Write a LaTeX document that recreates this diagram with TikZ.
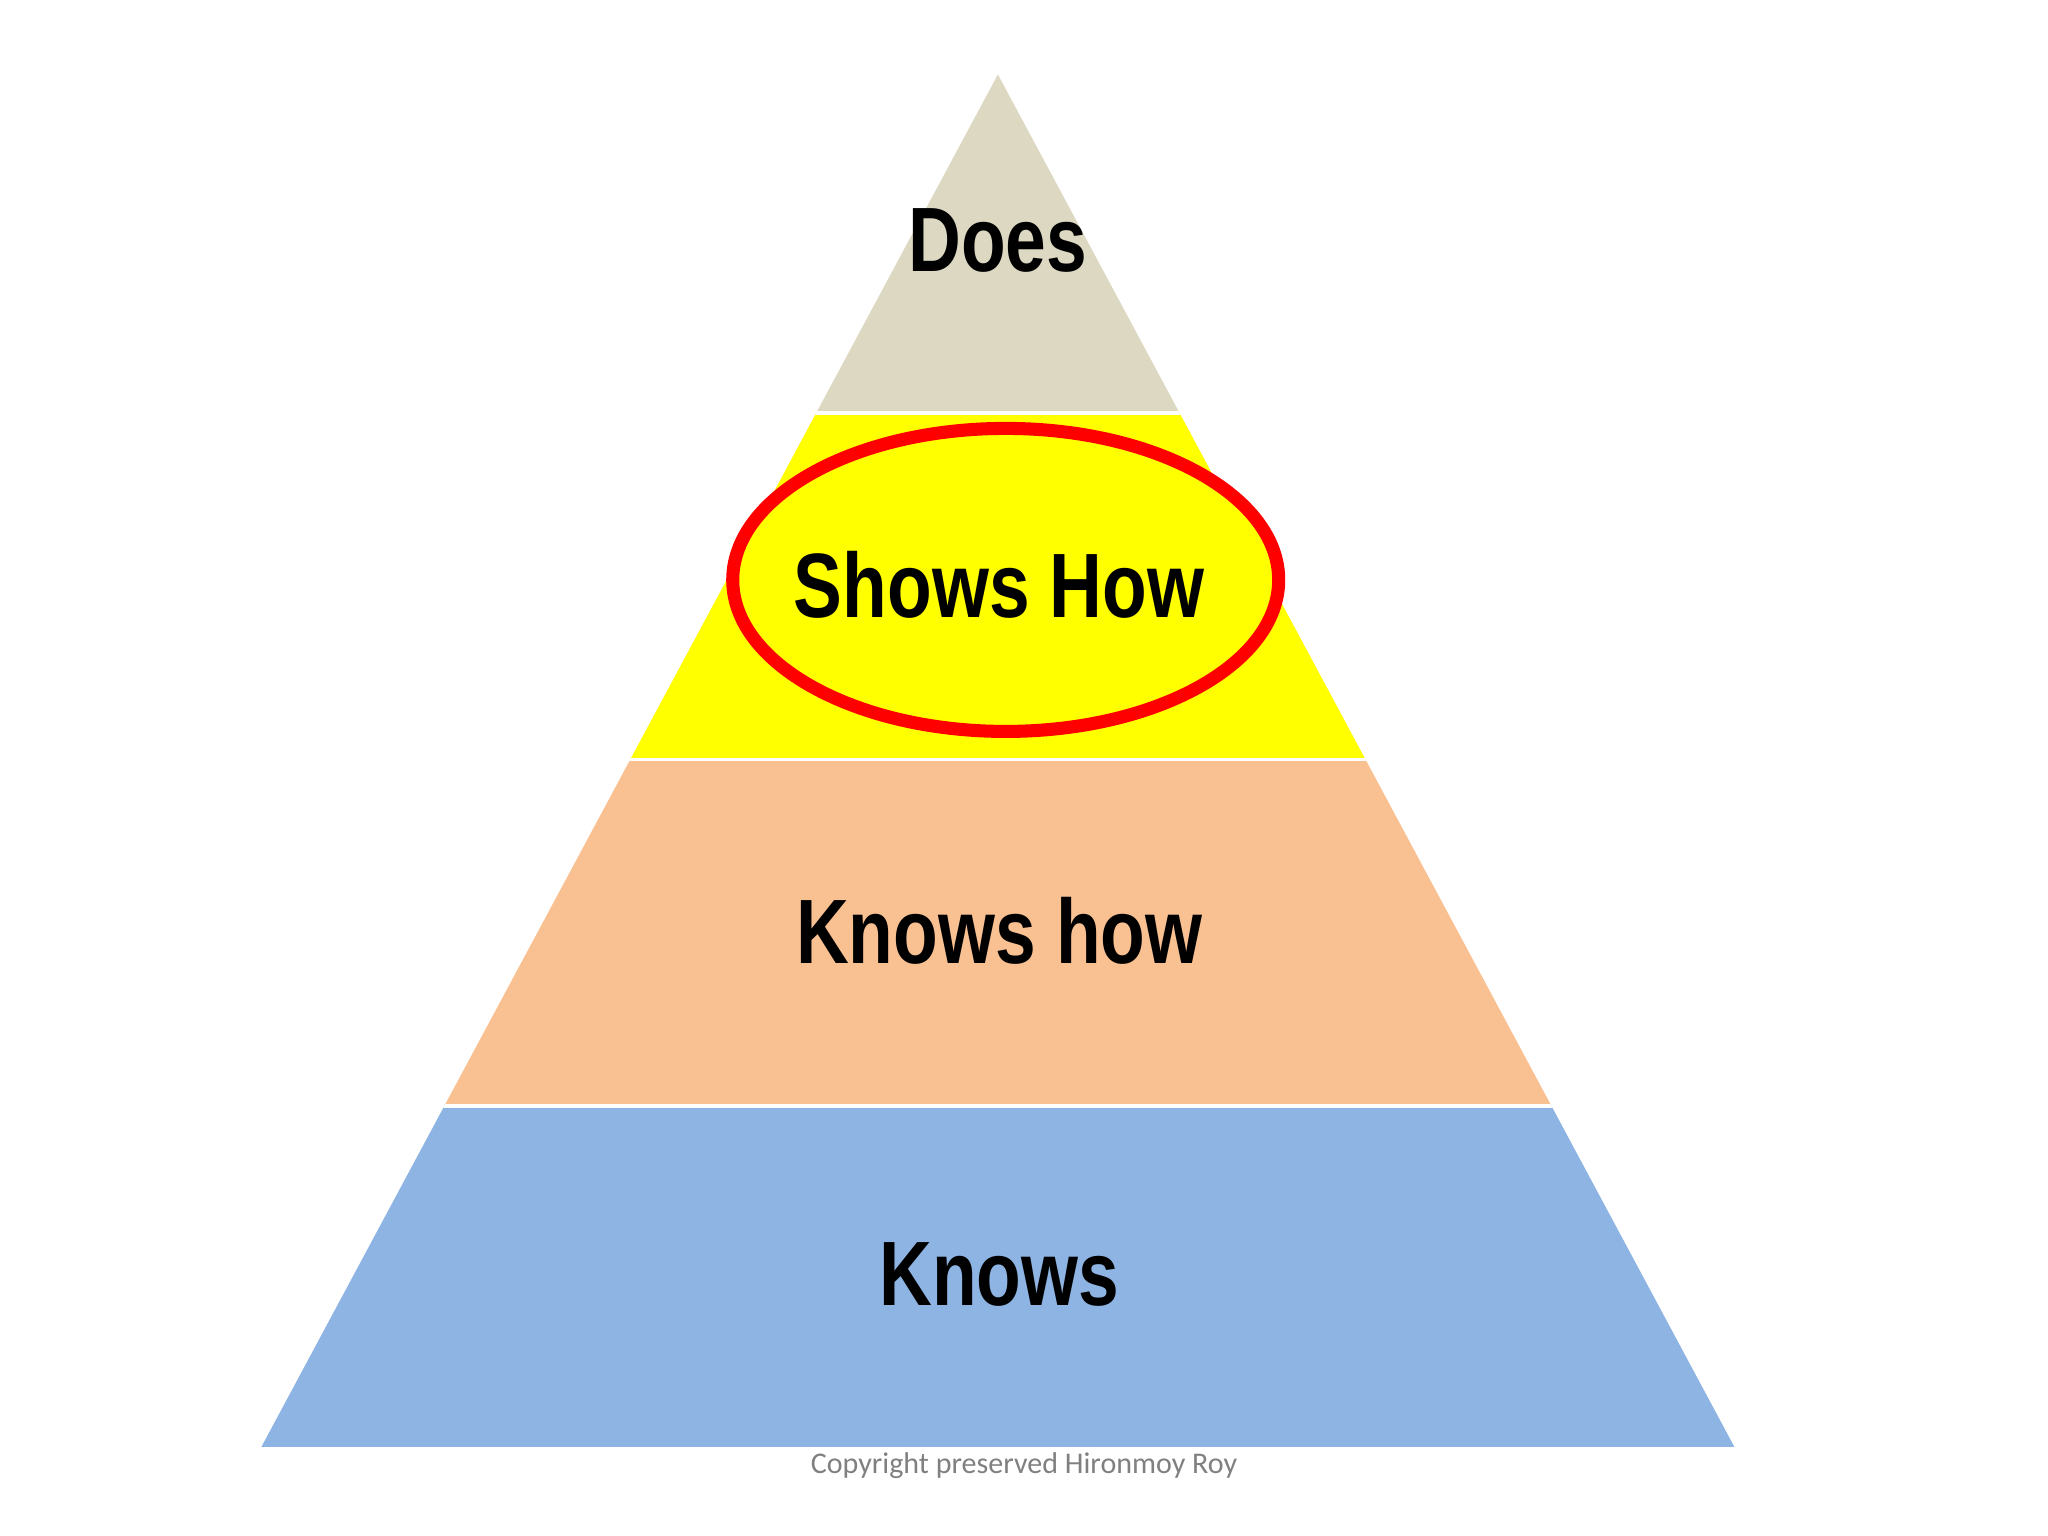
\documentclass[tikz,border=0pt]{standalone}
\usepackage{fontspec}
\usetikzlibrary{shapes.geometric}
\setmainfont{Liberation Sans}
\newfontfamily\copyfont{Carlito}
\definecolor{tanc}{RGB}{221,216,194}
\definecolor{yel}{RGB}{255,255,0}
\definecolor{orng}{RGB}{249,192,145}
\definecolor{blu}{RGB}{142,180,227}
\definecolor{grytxt}{RGB}{128,128,128}
\tikzset{lbl/.style={font=\bfseries\fontsize{35}{40}\selectfont,xscale=0.8,inner sep=0}}
\begin{document}
\begin{tikzpicture}[x=0.5pt,y=-0.5pt]
\useasboundingbox (0,0) rectangle (1568,1176);
\begin{scope}
\clip (764,57) -- (1328,1108) -- (200,1108) -- cycle;
\fill[tanc] (0,0) rectangle (1568,316);
\fill[yel] (0,316) rectangle (1568,581);
\fill[orng] (0,581) rectangle (1568,846);
\fill[blu] (0,846) rectangle (1568,1108);
\draw[white,line width=1.5pt] (0,316.5) -- (1568,316.5) (0,581.5) -- (1568,581.5) (0,846.5) -- (1568,846.5);
\end{scope}
\node[draw=red,fill=yel,line width=5pt,ellipse,minimum width=209pt,minimum height=116pt,inner sep=0] (ell) at (770,444) {};
\node[lbl] (does) at (764,184) {Does};
\node[lbl] (shows) at (765,448) {Shows How};
\node[lbl] (knowshow) at (765,713) {Knows how};
\node[lbl] (knows) at (765,976) {Knows};
\node[font=\copyfont\fontsize{11.5}{13}\selectfont,text=grytxt] (copy) at (784,1122) {Copyright preserved Hironmoy Roy};
\end{tikzpicture}
\end{document}
